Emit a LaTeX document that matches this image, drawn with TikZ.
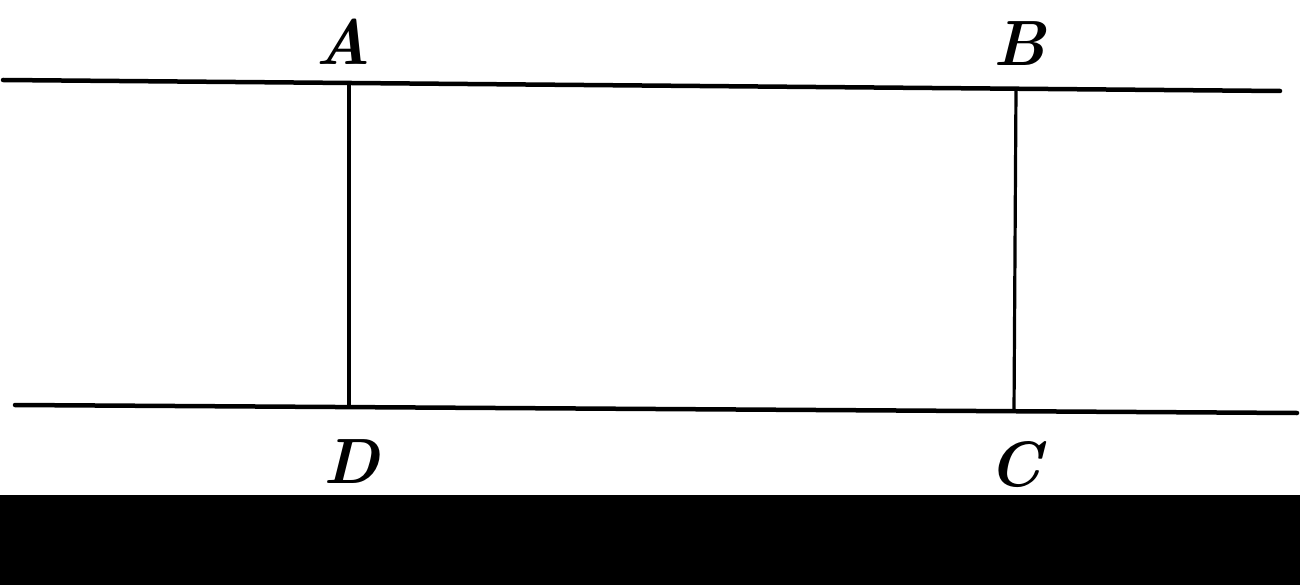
\documentclass[tikz,border=0pt]{standalone}
\begin{document}
\begin{tikzpicture}[x=1pt,y=-1pt,
  lbl/.style={font=\fontsize{64}{64}\selectfont\bfseries\itshape, inner sep=0pt},
  hline/.style={line width=4.5pt, line cap=round},
  vline/.style={line width=3.2pt}]
\useasboundingbox (0,0) rectangle (1300,585);
\fill[white] (0,0) rectangle (1300,495);
\fill[black] (0,495) rectangle (1300,585);
\coordinate (tl) at (3,80);
\coordinate (tr) at (1280,91);
\coordinate (bl) at (15,405);
\coordinate (br) at (1297,413);
\coordinate (a) at (349,83);
\coordinate (d) at (349,408);
\coordinate (b) at (1016,88);
\coordinate (c) at (1014,411);
\draw[hline] (tl) -- (tr);
\draw[hline] (bl) -- (br);
\draw[vline] (a) -- (d);
\draw[vline] (b) -- (c);
\node[lbl] (la) at (343,42) {A};
\node[lbl] (lb) at (1020,44) {B};
\node[lbl] (ld) at (352,462) {D};
\node[lbl] (lc) at (1015,465) {C};
\end{tikzpicture}
\end{document}
